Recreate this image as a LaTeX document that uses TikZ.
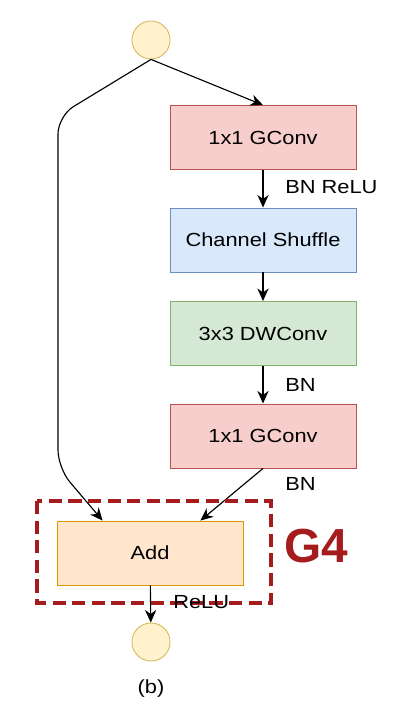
\documentclass[tikz,border=0pt]{standalone}
\usepackage{fontspec}
\setmainfont{Liberation Sans}[FakeStretch=1.15]
\newfontfamily\gfourfont{Liberation Sans}
\usetikzlibrary{arrows.meta}
\definecolor{redfill}{HTML}{F8CECC}
\definecolor{redline}{HTML}{B85450}
\definecolor{bluefill}{HTML}{DAE8FC}
\definecolor{blueline}{HTML}{6C8EBF}
\definecolor{greenfill}{HTML}{D5E8D4}
\definecolor{greenline}{HTML}{82B366}
\definecolor{orangefill}{HTML}{FFE6CC}
\definecolor{orangeline}{HTML}{D79B00}
\definecolor{yellowfill}{HTML}{FFF2CC}
\definecolor{yellowline}{HTML}{D6B656}
\definecolor{gfour}{HTML}{A51C1F}
\tikzset{
  layer/.style={draw,line width=0.6pt,minimum width=4.65cm,minimum height=1.6cm,font=\fontsize{13.5}{15}\selectfont},
  io/.style={circle,draw=yellowline,fill=yellowfill,line width=0.6pt,minimum size=0.95cm,inner sep=0pt},
  flow/.style={line width=0.8pt,-{Stealth[length=9pt,width=8pt]}},
  lbl/.style={anchor=west,inner sep=0pt,font=\fontsize{13.5}{15}\selectfont}
}
\begin{document}
\begin{tikzpicture}[x=0.025cm,y=-0.025cm]
            \useasboundingbox (0,0) rectangle (400,722);
            \node [io] (top) at (151,40) {};
            \node [layer,draw=redline,fill=redfill] (gconva) at (263,137.5) {1x1 GConv};
            \node [layer,draw=blueline,fill=bluefill] (shuffle) at (263,240) {Channel Shuffle};
            \node [layer,draw=greenline,fill=greenfill] (dwconv) at (263,333.5) {3x3 DWConv};
            \node [layer,draw=redline,fill=redfill] (gconvb) at (263,436) {1x1 GConv};
            \node [layer,draw=orangeline,fill=orangefill] (add) at (150,553) {Add};
            \node [io] (bottom) at (151,642) {};
            \coordinate (skipa) at (58,116);
            \coordinate (skipb) at (58,468);
            \draw [flow] (top.south) -- (gconva.north);
            \draw [flow] (gconva) -- (shuffle);
            \draw [flow] (shuffle) -- (dwconv);
            \draw [flow] (dwconv) -- (gconvb);
            \draw [flow,rounded corners=0.45cm] (top.south) -- (skipa) -- (skipb) -- ([xshift=1.15cm]add.north west);
            \draw [flow] (gconvb.south) -- ([xshift=-1.075cm]add.north east);
            \draw [flow] (add) -- (bottom);
            \draw [gfour,line width=2.8pt,dash pattern=on 0.33cm off 0.16cm] (37,501) rectangle (271,603);
            \node [lbl] (lbla) at (285,187) {BN ReLU};
            \node [lbl] (lblb) at (285,385) {BN};
            \node [lbl] (lblc) at (285,484) {BN};
            \node [lbl] (lbld) at (173,602) {ReLU};
            \node [text=gfour,font=\gfourfont\fontsize{34}{36}\selectfont\bfseries] (gname) at (316,546) {G4};
            \node [font=\fontsize{13.5}{15}\selectfont] (caption) at (151,689) {(b)};
        \end{tikzpicture}
\end{document}
